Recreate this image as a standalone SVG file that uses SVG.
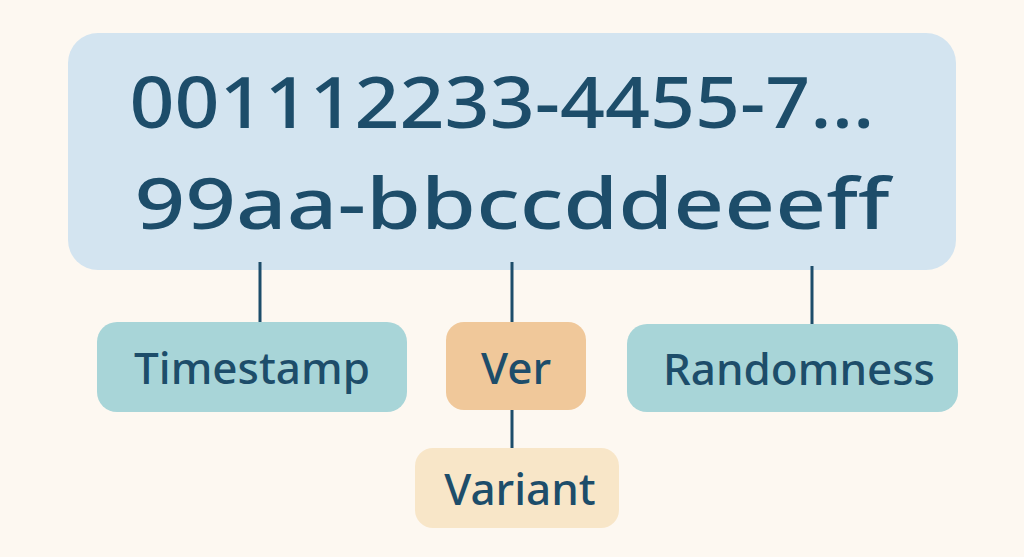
<svg xmlns="http://www.w3.org/2000/svg" width="1024" height="557" viewBox="0 0 1024 557">
<style>
text{font-family:"Noto Sans","Open Sans",sans-serif;fill:#1d4d6a;text-anchor:middle;font-weight:500}
.big{font-size:70px;font-weight:500}
.lbl{font-size:44px}
.c{stroke:#1d4d6a;stroke-width:3;fill:none}
</style>
<rect width="1024" height="557" fill="#fdf8f1"/>
<g id="uuid"><rect x="68" y="33" width="888" height="237" rx="30" fill="#d3e4f0"/>
<text class="big" x="502" y="128" textLength="745" lengthAdjust="spacingAndGlyphs">001112233-4455-7...</text>
<text class="big" x="512" y="229" textLength="755" lengthAdjust="spacingAndGlyphs">99aa-bbccddeeeff</text></g>
<g id="connectors">
<line class="c" x1="260" y1="262" x2="260" y2="322"/>
<line class="c" x1="512" y1="262" x2="512" y2="322"/>
<line class="c" x1="812" y1="266" x2="812" y2="324"/>
<line class="c" x1="512" y1="408" x2="512" y2="448"/>
</g>
<g id="timestamp"><rect x="97" y="322" width="310" height="90" rx="20" fill="#a8d5d8"/><text class="lbl" x="252" y="384">Timestamp</text></g>
<g id="ver"><rect x="446" y="322" width="140" height="88" rx="18" fill="#f0c89a"/><text class="lbl" x="516" y="384">Ver</text></g>
<g id="randomness"><rect x="627" y="324" width="331" height="88" rx="20" fill="#a8d5d8"/><text class="lbl" x="799" y="385">Randomness</text></g>
<g id="variant"><rect x="415" y="448" width="204" height="80" rx="18" fill="#f8e6c8"/><text class="lbl" x="520" y="505">Variant</text></g>
</svg>
